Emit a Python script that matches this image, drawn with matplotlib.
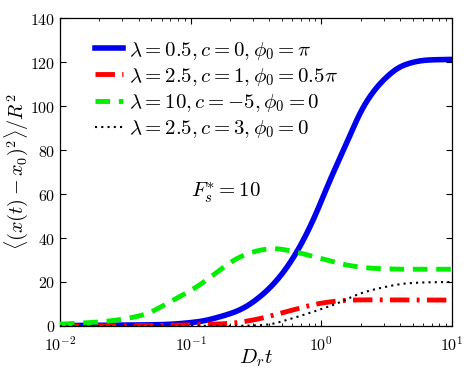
import matplotlib
matplotlib.use("Agg")
import matplotlib.pyplot as plt
import matplotlib.ticker as mticker
import numpy as np

plt.rcParams['mathtext.fontset'] = 'cm'
plt.rcParams['font.family'] = ['DejaVu Serif']

# Data
blue_x = [0.01, 0.03, 0.058, 0.117, 0.1675, 0.239, 0.34, 0.483, 0.648, 0.869, 1.165, 1.56, 2.09, 2.98, 4.24, 6.4, 10.0]
blue_y = [0.2, 0.4, 0.6, 2.0, 4.2, 7.3, 13.3, 22.4, 33.5, 48.2, 66.4, 83.0, 99.7, 111.8, 118.6, 120.9, 121.2]

green_x = [0.01, 0.0214, 0.0434, 0.0695, 0.117, 0.1675, 0.239, 0.34, 0.43, 0.648, 0.977, 1.56, 2.5, 4.5, 10.0]
green_y = [0.8, 2.0, 5.0, 11.0, 18.6, 25.5, 31.5, 34.5, 35.3, 33.5, 30.8, 27.7, 26.2, 25.8, 25.8]

red_x = [0.01, 0.05, 0.1, 0.2, 0.3, 0.54, 0.977, 1.56, 2.2, 3.0, 10.0]
red_y = [0.0, 0.2, 0.5, 1.2, 2.7, 6.5, 10.3, 11.7, 11.9, 11.8, 11.8]

black_x = [0.01, 0.2, 0.38, 0.54, 0.869, 1.33, 1.98, 3.16, 4.5, 7.0, 10.0]
black_y = [0.0, 0.05, 0.5, 2.7, 6.5, 10.3, 14.8, 17.9, 19.4, 19.9, 20.0]

labels = [r'$\lambda=0.5, c=0, \phi_0=\pi$',
          r'$\lambda=2.5, c=1, \phi_0=0.5\pi$',
          r'$\lambda=10, c=-5, \phi_0=0$',
          r'$\lambda=2.5, c=3, \phi_0=0$']

xticks = [0.01, 0.1, 1, 10]
xticklabels = [r'$10^{-2}$', r'$10^{-1}$', r'$10^{0}$', r'$10^{1}$']
yticks = [0, 20, 40, 60, 80, 100, 120, 140]


def smooth(xs, ys, n=600, win=41):
    xk = np.log10(np.asarray(xs, float)); yk = np.asarray(ys, float)
    grid = np.linspace(xk[0], xk[-1], n)
    h = np.diff(xk); d = np.diff(yk) / h
    m = np.zeros_like(yk)
    for i in range(1, len(yk) - 1):
        if d[i-1] * d[i] <= 0:
            m[i] = 0
        else:
            w1 = 2*h[i] + h[i-1]; w2 = h[i] + 2*h[i-1]
            m[i] = (w1 + w2) / (w1/d[i-1] + w2/d[i])
    m[0] = d[0]; m[-1] = d[-1]
    idx = np.clip(np.searchsorted(xk, grid) - 1, 0, len(xk) - 2)
    t = (grid - xk[idx]) / h[idx]
    h00 = 2*t**3 - 3*t**2 + 1; h10 = t**3 - 2*t**2 + t
    h01 = -2*t**3 + 3*t**2; h11 = t**3 - t**2
    yy = h00*yk[idx] + h10*h[idx]*m[idx] + h01*yk[idx+1] + h11*h[idx]*m[idx+1]
    # light smoothing of the interpolated curve
    k = np.exp(-0.5*((np.arange(win) - win//2)/(win/5))**2); k /= k.sum()
    pad = np.concatenate([np.full(win//2, yy[0]), yy, np.full(win//2, yy[-1])])
    yy = np.convolve(pad, k, mode='valid')
    return 10**grid, yy


fig = plt.figure(figsize=(4.74, 3.68), dpi=100)
ax = fig.add_axes([60/474, 1-326/368, 392/474, 308/368])

x, y = smooth(blue_x, blue_y)
ax.plot(x, y, color='#0000ee', lw=4, label=labels[0], zorder=3)
x, y = smooth(red_x, red_y)
ax.plot(x, y, color='#ff0000', lw=3.5, linestyle=(0, (4, 1.5, 0.6, 1.5)), label=labels[1], zorder=4)
x, y = smooth(green_x, green_y)
ax.plot(x, y, color='#00ee00', lw=3.5, linestyle=(0, (3, 1.8)), label=labels[2], zorder=4)
x, y = smooth(black_x, black_y)
ax.plot(x, y, color='black', lw=1.5, linestyle=(0, (1, 2)), label=labels[3], zorder=5)

ax.set_xscale('log')
ax.set_xlim(0.01, 10)
ax.set_ylim(0, 140)
ax.set_xticks(xticks)
ax.set_xticklabels(xticklabels)
ax.set_yticks(yticks)
ax.set_yticklabels([r'$%d$' % v for v in yticks])
ax.xaxis.set_minor_locator(mticker.LogLocator(base=10, subs=np.arange(2, 10)))
ax.xaxis.set_minor_formatter(mticker.NullFormatter())
ax.tick_params(which='both', direction='in', top=True, right=True, labelsize=11.5)
ax.tick_params(axis='x', which='major', pad=7.5)
ax.tick_params(which='major', length=4, width=0.8)
ax.tick_params(which='minor', length=2, width=0.6)
for lab in ax.get_yticklabels():
    lab.set_verticalalignment('center_baseline')
for s in ax.spines.values():
    s.set_linewidth(0.9)

ax.set_xlabel(r'$D_r t$', fontsize=15, labelpad=-5)
ax.set_ylabel(r'$\langle (x(t)-x_0)^2\rangle/R^2$', fontsize=14.5, labelpad=0)
ax.text(0.186, 60.5, r'$F_s^{*}=10$', fontsize=15, ha='center', va='center')

leg = ax.legend(loc='upper left', frameon=False, fontsize=15, handlelength=1.35,
                handletextpad=0.3, labelspacing=0.2, borderpad=0, borderaxespad=0,
                bbox_to_anchor=(0.089, 0.93))

fig.savefig('out.png', dpi=100)
